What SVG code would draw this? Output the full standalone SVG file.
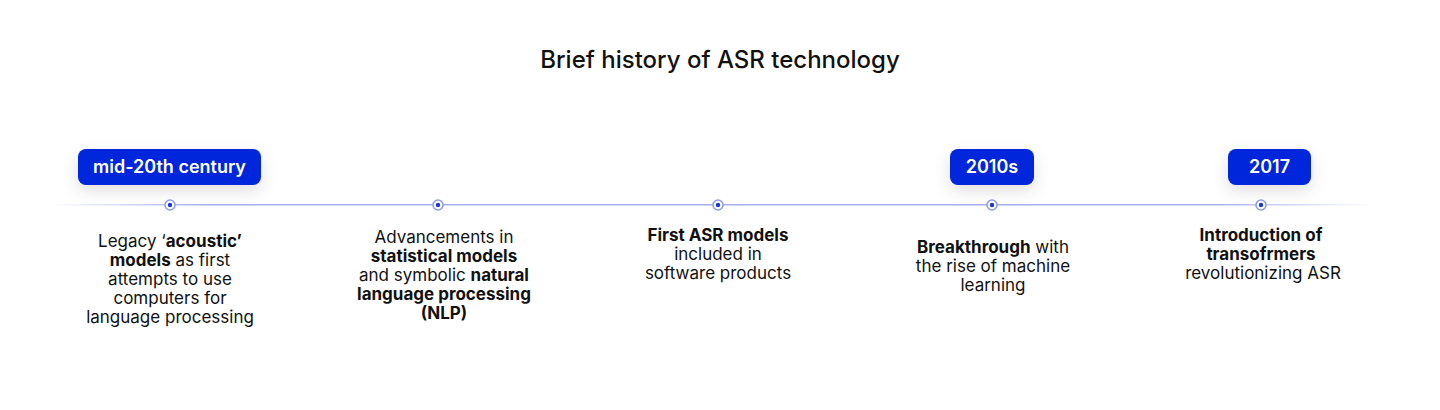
<svg xmlns="http://www.w3.org/2000/svg" width="1440" height="410" viewBox="0 0 1440 410">
<style>
text{font-family:Inter,"Liberation Sans",sans-serif;fill:#111}
.t{font-size:24px;font-weight:500;text-anchor:middle}
.d{font-size:17px;text-anchor:middle}
.b{font-weight:700}
.pl{fill:#0525DC}
.pt{fill:#fff;font-size:18px;font-weight:600;text-anchor:middle}
.o{fill:#fff;stroke:#8C9BEC;stroke-width:1.5}
.i{fill:#1D36D6}
</style>
<defs>
<linearGradient id="lg" x1="0" x2="1">
<stop offset="0" stop-color="#A4AFF0" stop-opacity="0"/>
<stop offset="0.12" stop-color="#A4AFF0"/>
<stop offset="0.88" stop-color="#A4AFF0"/>
<stop offset="1" stop-color="#A4AFF0" stop-opacity="0"/>
</linearGradient>
<filter id="sh" x="-30%" y="-60%" width="160%" height="240%"><feDropShadow dx="0" dy="6" stdDeviation="8" flood-color="#000" flood-opacity="0.12"/></filter>
</defs>
<rect width="1440" height="410" fill="#fff"/>
<text class="t" x="720" y="68">Brief history of ASR technology</text>
<g id="connectors"><rect x="50" y="204" width="1320" height="1.5" fill="url(#lg)"/></g>
<g id="n1">
<rect class="pl" x="78" y="149" width="183" height="36" rx="8" filter="url(#sh)"/>
<text class="pt" x="169.5" y="173">mid-20th century</text>
<circle class="o" cx="170" cy="205" r="5"/><circle class="i" cx="170" cy="205" r="2.2"/>
<text class="d" x="170" y="247">Legacy ‘<tspan class="b">acoustic’</tspan></text>
<text class="d" x="170" y="266"><tspan class="b">models</tspan> as first</text>
<text class="d" x="170" y="285">attempts to use</text>
<text class="d" x="170" y="304">computers for</text>
<text class="d" x="170" y="323">language processing</text>
</g>
<g id="n2">
<circle class="o" cx="438" cy="205" r="5"/><circle class="i" cx="438" cy="205" r="2.2"/>
<text class="d" x="444" y="243">Advancements in</text>
<text class="d b" x="444" y="262">statistical models</text>
<text class="d" x="444" y="281">and symbolic <tspan class="b">natural</tspan></text>
<text class="d b" x="444" y="300">language processing</text>
<text class="d b" x="444" y="319">(NLP)</text>
</g>
<g id="n3">
<circle class="o" cx="718" cy="205" r="5"/><circle class="i" cx="718" cy="205" r="2.2"/>
<text class="d b" x="718" y="241">First ASR models</text>
<text class="d" x="718" y="260">included in</text>
<text class="d" x="718" y="279">software products</text>
</g>
<g id="n4">
<rect class="pl" x="950" y="149" width="84" height="36" rx="8" filter="url(#sh)"/>
<text class="pt" x="992" y="173">2010s</text>
<circle class="o" cx="992" cy="205" r="5"/><circle class="i" cx="992" cy="205" r="2.2"/>
<text class="d" x="993" y="253"><tspan class="b">Breakthrough</tspan> with</text>
<text class="d" x="993" y="272">the rise of machine</text>
<text class="d" x="993" y="291">learning</text>
</g>
<g id="n5">
<rect class="pl" x="1228" y="149" width="83" height="36" rx="8" filter="url(#sh)"/>
<text class="pt" x="1269.5" y="173">2017</text>
<circle class="o" cx="1261" cy="205" r="5"/><circle class="i" cx="1261" cy="205" r="2.2"/>
<text class="d b" x="1261" y="241">Introduction of</text>
<text class="d b" x="1261" y="260">transofrmers</text>
<text class="d" x="1263" y="279">revolutionizing ASR</text>
</g>
</svg>
